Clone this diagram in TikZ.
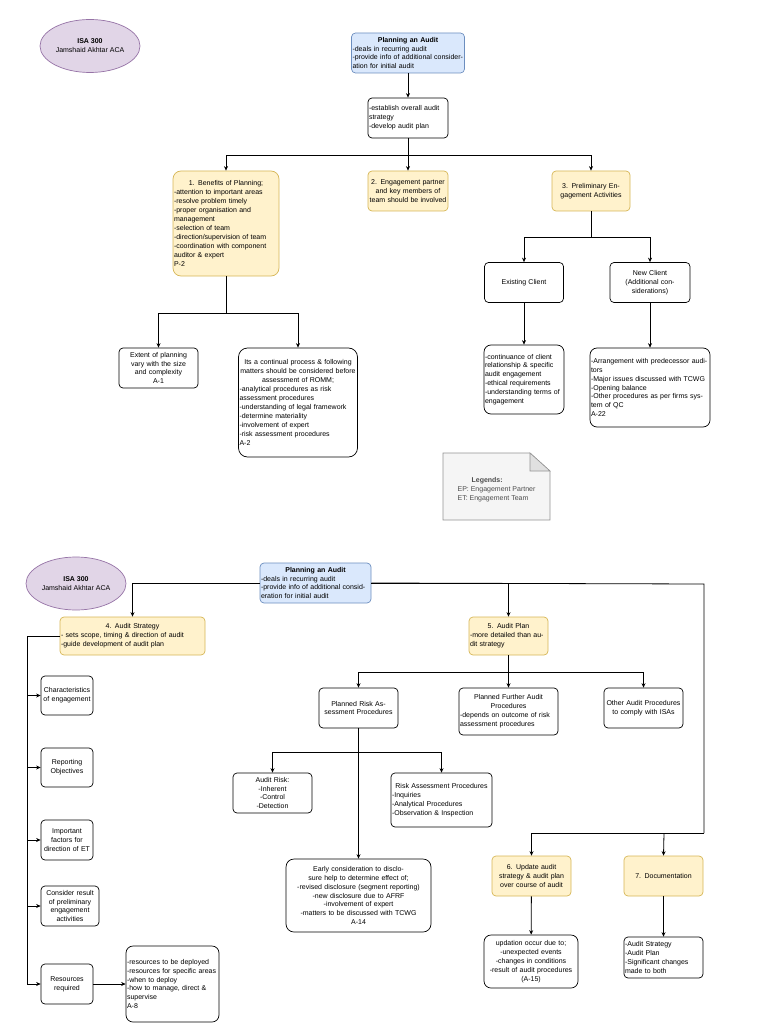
\documentclass[tikz,border=0pt]{standalone}
\usepackage{fontspec}
\setmainfont{Liberation Sans}
\usetikzlibrary{arrows.meta,shapes.geometric}
\definecolor{bfill}{HTML}{DAE8FC}\definecolor{bdraw}{HTML}{6C8EBF}
\definecolor{yfill}{HTML}{FFF2CC}\definecolor{ydraw}{HTML}{D6B656}
\definecolor{pfill}{HTML}{E1D5E7}\definecolor{pdraw}{HTML}{9673A6}
\definecolor{nfill}{HTML}{F5F5F5}\definecolor{ndraw}{HTML}{666666}
\newcommand{\ft}{\fontsize{7}{8.9}\selectfont}
\tikzset{
 box/.style={draw=black, line width=0.7pt, rounded corners=4pt, inner sep=0.8pt, font=\ft, fill=white},
 yb/.style={box, draw=ydraw, fill=yfill},
 bb/.style={box, draw=bdraw, fill=bfill},
 el/.style={ellipse, draw=pdraw, fill=pfill, line width=0.7pt, inner sep=0pt, font=\ft, align=center},
 ln/.style={line width=0.8pt},
 ar/.style={ln, -{Stealth[length=4.5pt,width=4pt]}},
}
\newcommand{\bx}[8]{\node[#7, minimum width=#4pt, minimum height=#5pt, text width=#4pt-2pt, align=#6] (#1) at (#2,#3) {#8};}
\begin{document}
\begin{tikzpicture}[x=1pt,y=-1pt]
\useasboundingbox (0,0) rectangle (768,1024);
% ---------- top ----------
\node[el, minimum width=100pt, minimum height=53pt] (isa1) at (90,46) {\textbf{ISA 300}\\Jamshaid Akhtar ACA};
\bx{plan1}{408}{53}{113}{40}{left}{bb}{\centering\textbf{Planning an Audit}\par\raggedright -deals in recurring audit\\-provide info of additional consideration for initial audit}
\bx{strat}{408}{118}{80}{40}{left}{box}{-establish overall audit strategy\\-develop audit plan}
\bx{b1}{226}{223.5}{106}{105}{left}{yb,rounded corners=8pt}{\centering 1. Benefits of Planning;\par\raggedright -attention to important areas\\-resolve problem timely\\-proper organisation and management\\-selection of team\\-direction/supervision of team\\-coordination with component auditor \& expert\par\centering P-2}
\bx{b2}{408}{191}{80}{40}{center}{yb}{2. Engagement partner and key members of team should be involved}
\bx{b3}{591}{191}{78}{40}{center}{yb}{3. Preliminary Engagement Activities}
\bx{ex}{524}{282.5}{79}{40}{center}{box}{Existing Client}
\bx{nw}{650}{282.5}{80}{40}{center}{box}{New Client\\(Additional considerations)}
\bx{a1}{158.5}{368}{79}{40}{center}{box}{Extent of planning vary with the size and complexity\\A-1}
\bx{a2}{298}{402.5}{119}{109}{left}{box,rounded corners=9pt}{\centering Its a continual process \& following matters should be considered before assessment of ROMM;\par\raggedright -analytical procedures as risk assessment procedures\\-understanding of legal framework\\-determine materiality\\-involvement of expert\\-risk assessment procedures\par\centering A-2}
\bx{c1}{524}{379.5}{80}{69}{left}{box,rounded corners=7pt}{-continuance of client relationship \& specific audit engagement\\-ethical requirements\\-understanding terms of engagement}
\bx{c2}{650}{387.5}{120}{79}{left}{box,rounded corners=7pt}{-Arrangement with predecessor auditors\\-Major issues discussed with TCWG\\-Opening balance\\-Other procedures as per firms system of QC\par\centering A-22}
% note
\node[font=\ft, text=black!70, align=left, inner sep=0pt] (leg) at (496.5,490) {\hspace*{14pt}\textbf{Legends:}\\EP: Engagement Partner\\ET: Engagement Team};
\draw[draw=ndraw!70, fill=nfill, line width=0.6pt] (443,453) -- (530,453) -- (550,471) -- (550,520) -- (443,520) -- cycle;
\draw[draw=ndraw!70, fill=black!12, line width=0.6pt] (530,453) -- (530,471) -- (550,471) -- cycle;
\node[font=\ft, text=black!70, align=left, inner sep=0pt] at (496.5,490) {\hspace*{14pt}\textbf{Legends:}\\EP: Engagement Partner\\ET: Engagement Team};
% top connectors
\draw[ar] (plan1) -- (strat);
\draw[ln] (strat.south) -- (408,155) coordinate (s1);
\draw[ar] (s1) -- (b2.north);
\draw[ar] (s1) -| (b1.north);
\draw[ar] (s1) -| (b3.north);
\draw[ln] (b3.south) -- (591,237) coordinate (s2);
\draw[ar] (s2) -| (ex.north);
\draw[ar] (s2) -| (nw.north);
\draw[ln] (b1.south) -- (226,313) coordinate (s3);
\draw[ar] (s3) -| (a1.north);
\draw[ar] (s3) -| (a2.north);
\draw[ar] (ex) -- (c1);
\draw[ar] (nw) -- (c2);
% ---------- bottom ----------
\node[el, minimum width=100pt, minimum height=53pt] (isa2) at (76,583.5) {\textbf{ISA 300}\\Jamshaid Akhtar ACA};
\bx{plan2}{315.5}{583}{111}{40}{left}{bb}{\centering\textbf{Planning an Audit}\par\raggedright -deals in recurring audit\\-provide info of additional consideration for initial audit}
\bx{s4}{132.5}{636}{145}{38}{left}{yb}{\centering 4. Audit Strategy\par\raggedright - sets scope, timing \& direction of audit\\-guide development of audit plan}
\bx{p5}{508.5}{636}{79}{38}{left}{yb}{\centering 5. Audit Plan\par\raggedright -more detailed than audit strategy}
\bx{ch}{67}{695.5}{52}{39}{center}{box}{Characteristics of engagement}
\bx{rep}{67}{767.5}{52}{39}{center}{box}{Reporting Objectives}
\bx{imp}{67}{840}{52}{40}{center}{box}{Important factors for direction of ET}
\bx{con}{70}{906}{58}{40}{center}{box}{Consider result of preliminary engagement activities}
\bx{res}{67}{984}{52}{40}{center}{box}{Resources required}
\bx{rd}{172.5}{984}{93}{76}{left}{box,rounded corners=7pt}{-resources to be deployed\\-resources for specific areas\\-when to deploy\\-how to manage, direct \& supervise\par\centering A-8}
\bx{pra}{358.5}{708}{79}{40}{center}{box}{Planned Risk Assessment Procedures}
\bx{pfa}{508.5}{711.5}{99}{47}{left}{box}{\centering Planned Further Audit Procedures\par\raggedright -depends on outcome of risk assessment procedures}
\bx{oth}{643.5}{708}{79}{40}{center}{box}{Other Audit Procedures to comply with ISAs}
\bx{ark}{272.5}{793}{79}{40}{center}{box}{Audit Risk:\\-Inherent\\-Control\\-Detection}
\bx{rap}{441.5}{800}{101}{54}{left}{box}{\centering Risk Assessment Procedures\par\raggedright -Inquiries\\-Analytical Procedures\\-Observation \& Inspection}
\bx{ear}{358.5}{895.5}{145}{73}{center}{box,rounded corners=8pt}{Early consideration to disclosure help to determine effect of;\\-revised disclosure (segment reporting)\\-new disclosure due to AFRF\\-involvement of expert\\-matters to be discussed with TCWG\\A-14}
\bx{u6}{531.5}{876}{79}{40}{center}{yb}{6. Update audit strategy \& audit plan over course of audit}
\bx{d7}{663.5}{876}{79}{40}{center}{yb}{7. Documentation}
\bx{ud}{531}{961.5}{94}{53}{center}{box,rounded corners=7pt}{updation occur due to;\\-unexpected events\\-changes in conditions\\-result of audit procedures\\(A-15)}
\bx{dd}{663.5}{957.5}{79}{41}{left}{box}{-Audit Strategy\\-Audit Plan\\-Significant changes made to both}
% bottom connectors
\draw[ar] (plan2.west) -| (s4.north);
\draw[ar] (plan2.east) -| (p5.north);
\draw[ln] (plan2.east) -- (704,584) -- (704,833) coordinate (r1);
\draw[ar] (r1) -| (u6.north);
\draw[ar] (664,833) coordinate (r2) -- (d7.north);
\draw[ln] (s4.west) -- (27,636) coordinate (l0) -- (27,984) coordinate (l1);
\foreach \n in {ch,rep,imp,con,res}{\draw[ar] (l0 |- \n.west) -- (\n.west);}
\draw[ar] (res) -- (rd);
\draw[ln] (p5.south) -- (508.5,672) coordinate (s5);
\draw[ar] (s5) -| (pra.north);
\draw[ar] (s5) -- (pfa.north);
\draw[ar] (s5) -| (oth.north);
\draw[ar] (pra.south) -- (ear.north);
\draw[ln] (358.5,752) coordinate (s6);
\draw[ar] (s6) -| (ark.north);
\draw[ar] (s6) -| (rap.north);
\draw[ar] (u6) -- (ud);
\draw[ar] (d7) -- (dd);
\end{tikzpicture}
\end{document}
